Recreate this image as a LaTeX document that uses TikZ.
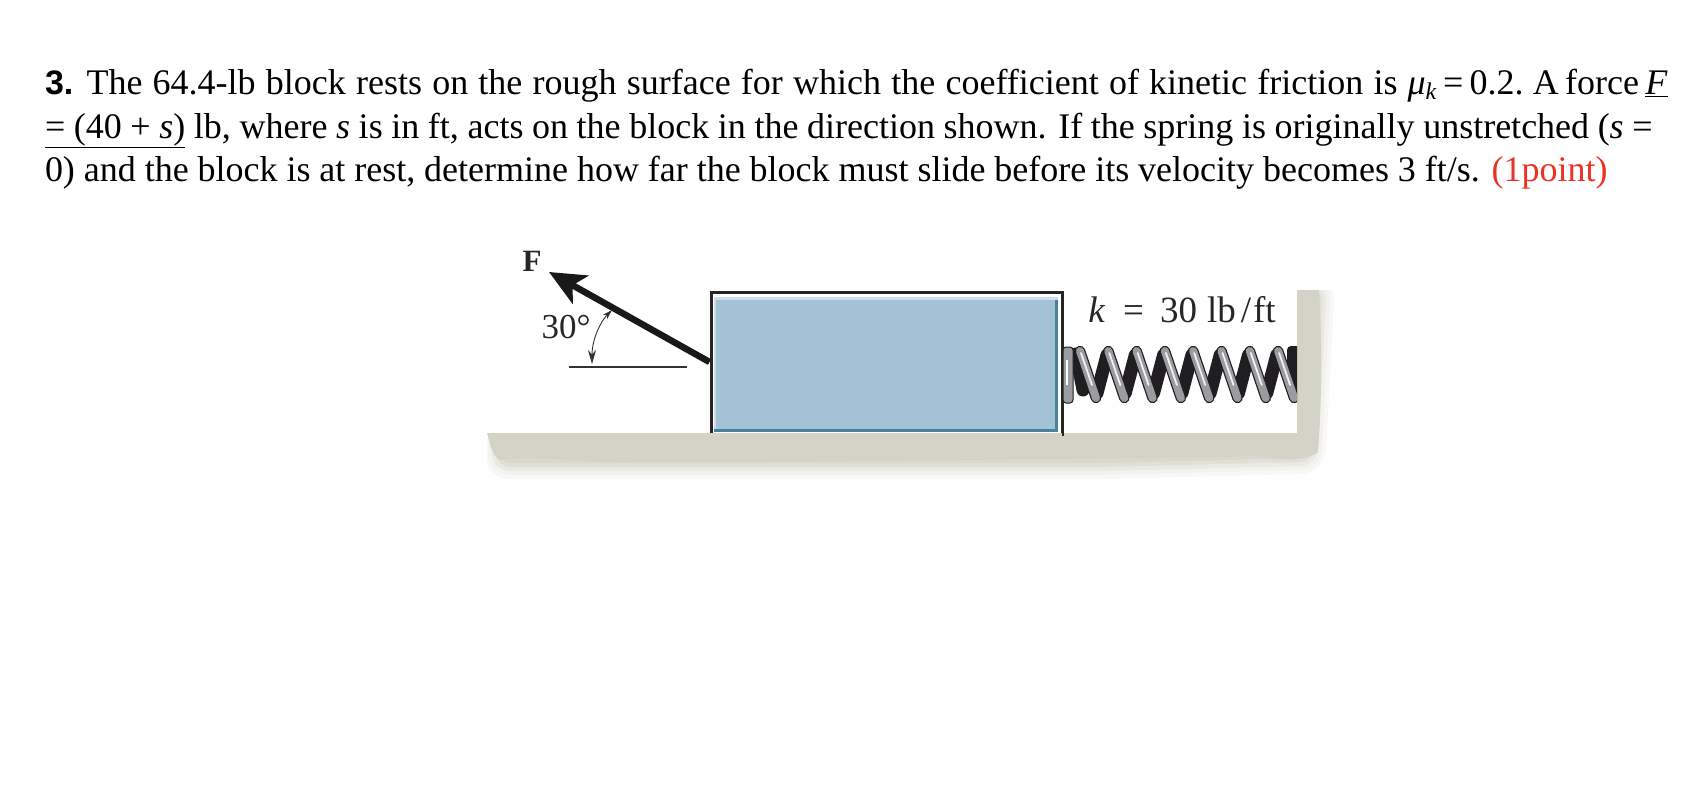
\documentclass[tikz,border=0pt]{standalone}
\usepackage{fontspec}
\setmainfont{Liberation Serif}
\newfontfamily\headfont{Liberation Sans}
\usetikzlibrary{arrows.meta}
\definecolor{groundc}{RGB}{212,211,199}
\definecolor{blockc}{RGB}{163,194,214}
\definecolor{blockedge}{RGB}{70,130,155}
\definecolor{blocklight}{RGB}{205,222,234}
\definecolor{redtext}{RGB}{236,50,40}
\definecolor{coilgrey}{RGB}{155,155,160}
\definecolor{coildark}{RGB}{32,30,32}
\tikzset{
  x=1pt,y=-1pt,
  textline/.style={anchor=base west,inner sep=0pt,outer sep=0pt,font=\fontsize{36}{40}\selectfont},
  figlabel/.style={inner sep=0pt,text=black!85},
  coilback/.style={draw=coildark,line width=13pt,line cap=round},
  coilout/.style={draw=coildark,line width=10.5pt,line cap=round},
  coilfront/.style={draw=coilgrey,line width=8pt,line cap=round},
  coilshine/.style={draw=white!90!gray,line width=1.8pt,line cap=round},
}
\begin{document}
\begin{tikzpicture}
\useasboundingbox (0,0) rectangle (1690,800);
\fill[white] (0,0) rectangle (1690,800);
% text
\node[textline] (l1) at (45,95) {\spaceskip=10.2pt {\headfont\bfseries\fontsize{34}{40}\selectfont 3.} The 64.4-lb block rests on the rough surface for which the coefficient of kinetic friction is \textit{μ}\raisebox{-5pt}{\fontsize{24}{26}\selectfont\textit{k}}\spaceskip=6.3pt\ = 0.2. A force \underline{\textit{F}}};
\node[textline] (l2) at (45,138) {\spaceskip=8.6pt \underline{= (40 + \textit{s})} lb, where \textit{s} is in ft, acts on the block in the direction shown. If the spring is originally unstretched (\textit{s} =};
\node[textline] (l3) at (45,181) {\spaceskip=8.9pt 0) and the block is at rest, determine how far the block must slide before its velocity becomes 3 ft/s. \textcolor{redtext}{(1point)}};
% ground and wall, soft edge
\foreach \w/\m in {52/15,44/30,36/50,28/70,20/88}{
  \draw[groundc!\m!white,line width=\w pt,line join=round,line cap=round] (510,453) -- (1100,453) -- (1300,448) -- (1308,300);
}
\fill[white] (440,255) rectangle (1297,433);
\fill[white] (1297,255) rectangle (1340,290);
\fill[white] (440,433) rectangle (487,490);
\fill[groundc] (487,433) -- (1297,433) -- (1297,290) -- (1319,290)
  .. controls (1322,340) and (1322,400) .. (1318,452)
  .. controls (1304,462) and (1284,460) .. (1260,456)
  .. controls (1100,459) and (800,462) .. (620,462)
  .. controls (580,462) and (530,455) .. (500,460)
  .. controls (492,455) and (490,445) .. (487,433) -- cycle;
% block
\node[draw=black!85,line width=3pt,fill=white,minimum width=351pt,minimum height=142pt,inner sep=0pt,anchor=north west] (block) at (709.5,291) {};
\fill[blocklight] (713.5,297) rectangle (1057.5,431);
\fill[blockc] (715.5,300) rectangle (1054.5,429);
\fill[blockedge] (713.5,429) rectangle (1057.5,431.5);
\fill[blockedge] (1054.5,300) rectangle (1057.5,431);
\fill[groundc] (707,433) rectangle (1062,436);
% force
\coordinate (tail) at (block.north west |- 0,362);
\coordinate (tip) at (549,272);
\draw[line width=6.5pt,black!90,-{Stealth[length=36pt,width=32pt,inset=9pt]}] (tail) -- (tip);
\node[figlabel,font=\bfseries\fontsize{31}{34}\selectfont] (flabel) at (532,261) {F};
\coordinate (h1) at (569,367);
\coordinate (h2) at (687,367);
\draw[line width=1.2pt,black!80] (h1) -- (h2);
\node[figlabel,font=\fontsize{35}{38}\selectfont] (ang) at (566,327) {30°};
\coordinate (a1) at (612,310);
\coordinate (a2) at (592,364);
\draw[line width=.9pt,black!80,{Stealth[length=10pt,width=6pt]}-{Stealth[length=14pt,width=8pt]}] (a1) .. controls (600,322) and (592,340) .. (a2);
\node[figlabel,font=\fontsize{37}{38}\selectfont] (klabel) at (1182,310) {\textit{k}\hspace{18pt}=\hspace{16pt}30\hspace{10pt}lb\hspace{5pt}/\hspace{2pt}ft};
% spring
\begin{scope}
\clip (1062,340) rectangle (1297,410);
\foreach \i in {0,...,6}{
  \pgfmathsetmacro{\bx}{1097+28.3*\i}
  \pgfmathsetmacro{\tx}{1107+28.3*\i}
  \draw[coilback] (\bx,393) -- (\tx,355);
}
\draw[coilback] (1076,354) -- (1083,390);
\fill[coildark,rounded corners=4pt] (1287,346) rectangle (1300,395);
\foreach \i in {0,...,7}{
  \pgfmathsetmacro{\ax}{1080+28.3*\i}
  \pgfmathsetmacro{\bx}{1096+28.3*\i}
  \draw[coilout] (\ax,351) -- (\bx,398);
  \draw[coilfront] (\ax,351) -- (\bx,398);
  \draw[coilshine] (\ax+1,353) -- (\bx-4,385);
}
\end{scope}
\fill[coilgrey,draw=coildark,line width=1pt,rounded corners=3pt] (1063,347) rectangle (1073,403);
\fill[white] (1066,360) rectangle (1068,385);
\end{tikzpicture}
\end{document}
